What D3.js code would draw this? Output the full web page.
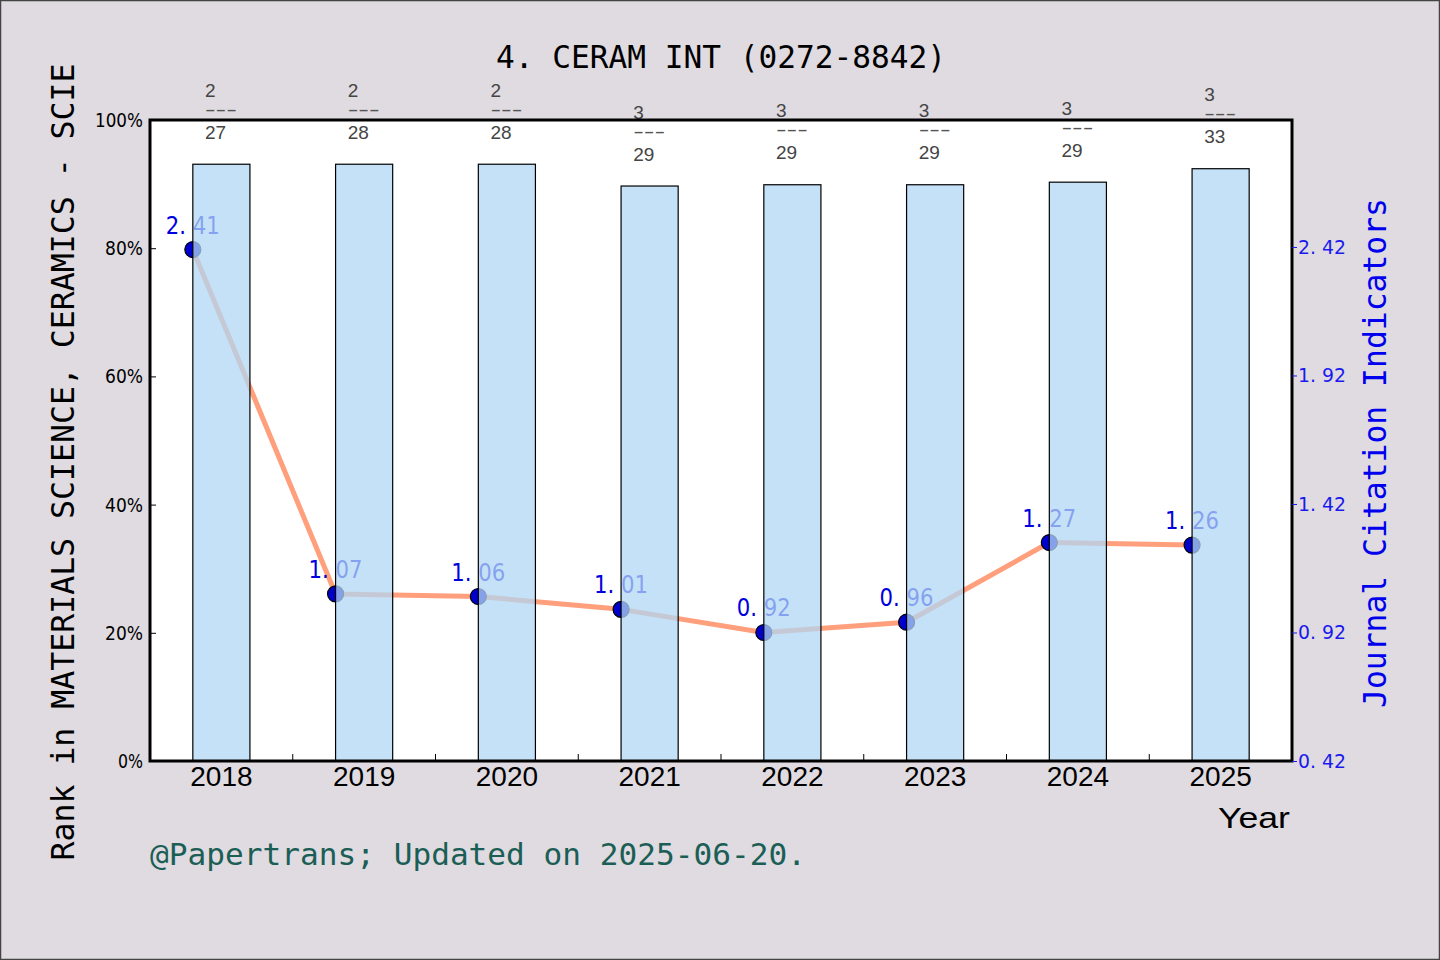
<!DOCTYPE html>
<html>
<head>
<meta charset="utf-8">
<script src="https://cdn.jsdelivr.net/npm/d3@7"></script>
<style>
html,body{margin:0;padding:0;background:#dfdbe0;}
svg{display:block;}
</style>
</head>
<body>
<svg id="chart" width="1440" height="960"></svg>
<script>
const years = ["2018","2019","2020","2021","2022","2023","2024","2025"];
const rankPct = [93.1, 93.1, 93.1, 89.7, 89.9, 89.9, 90.3, 92.4];
const rankNum = [2, 2, 2, 3, 3, 3, 3, 3];
const rankDen = [27, 28, 28, 29, 29, 29, 29, 33];
const jci = [2.41, 1.07, 1.06, 1.01, 0.92, 0.96, 1.27, 1.26];
const leftTicks = [0, 20, 40, 60, 80, 100];
const rightTicks = [0.42, 0.92, 1.42, 1.92, 2.42];
const rightDomain = [0.42, 2.914];

const titleText = "4. CERAM INT (0272-8842)";
const leftLabel = "Rank in MATERIALS SCIENCE, CERAMICS - SCIE";
const rightLabel = "Journal Citation Indicators";
const footText = "@Papertrans; Updated on 2025-06-20.";
const xLabel = "Year";

const mono = "'DejaVu Sans Mono','Liberation Mono',monospace";
const sans = "'Liberation Sans','DejaVu Sans',Arial,sans-serif";
const dsans = "'DejaVu Sans','Liberation Sans',sans-serif";

const L = 150, R = 1292, T = 120, B = 761;
const svg = d3.select("#chart");

// background + border
svg.append("rect").attr("x",0.5).attr("y",0.5).attr("width",1439).attr("height",959)
  .attr("fill","#dfdbe0").attr("stroke","#444").attr("stroke-width",1.5);
svg.append("rect").attr("x",L).attr("y",T).attr("width",R-L).attr("height",B-T).attr("fill","#ffffff");

const x = d3.scaleBand().domain(years).range([L,R]).padding(0);
const bw = x.bandwidth();
const barW = bw*0.4;
const yL = d3.scaleLinear().domain([0,100]).range([B,T]);
const yR = d3.scaleLinear().domain(rightDomain).range([B,T]);
const fmt = v => d3.format(".2f")(v).replace(".", ". ");

const data = years.map((y,i)=>({year:y, pct:rankPct[i], num:rankNum[i], den:rankDen[i], jci:jci[i]}));
const px = d => x(d.year) + (bw-barW)/2;

// line
svg.append("path").datum(data)
  .attr("d", d3.line().x(px).y(d=>yR(d.jci)))
  .attr("fill","none").attr("stroke","#ff9f7c").attr("stroke-width",5).attr("stroke-linejoin","round");

// dots
svg.selectAll("circle.pt").data(data).join("circle").attr("class","pt")
  .attr("cx",px).attr("cy",d=>yR(d.jci)).attr("r",8)
  .attr("fill","#0000cc").attr("stroke","#000").attr("stroke-width",1.2);

// point labels
svg.selectAll("text.pl").data(data).join("text").attr("class","pl")
  .attr("x",px).attr("y",d=>yR(d.jci)-16)
  .attr("text-anchor","middle").attr("font-family",dsans).attr("font-size",24)
  .attr("fill","#0000dd")
  .attr("textLength",54).attr("lengthAdjust","spacingAndGlyphs")
  .text(d=>fmt(d.jci));

// bars (semi-transparent, over line)
svg.selectAll("rect.bar").data(data).join("rect").attr("class","bar")
  .attr("x",px).attr("width",barW)
  .attr("y",d=>yL(d.pct)).attr("height",d=>B-yL(d.pct))
  .attr("fill","rgb(178,215,244)").attr("fill-opacity",0.75)
  .attr("stroke","#000").attr("stroke-width",1.2);

// fraction labels above bars
const fr = svg.selectAll("g.fr").data(data).join("g").attr("class","fr")
  .attr("transform",d=>`translate(${x(d.year)+bw/2-16.5},${yL(d.pct)})`);
fr.append("text").attr("x",0).attr("y",-74).attr("dy","0.35em")
  .attr("font-family",sans).attr("font-size",19).attr("fill","#444").text(d=>d.num);
fr.append("text").attr("x",0).attr("y",-55).attr("dy","0.35em")
  .attr("font-family",sans).attr("font-size",19).attr("fill","#555")
  .attr("textLength",32).attr("lengthAdjust","spacingAndGlyphs").text("---");
fr.append("text").attr("x",0).attr("y",-32).attr("dy","0.35em")
  .attr("font-family",sans).attr("font-size",19).attr("fill","#444").text(d=>d.den);

// frame
svg.append("rect").attr("x",L).attr("y",T).attr("width",R-L).attr("height",B-T)
  .attr("fill","none").attr("stroke","#000").attr("stroke-width",3);

// left axis
const gL = svg.append("g").attr("transform",`translate(${L},0)`)
  .call(d3.axisLeft(yL).tickValues(leftTicks).tickSize(-6).tickPadding(7).tickFormat(d=>d+"%"));
gL.select(".domain").remove();
gL.selectAll("line").attr("stroke","#000");
gL.selectAll("text").attr("font-family",dsans).attr("font-size",20).attr("fill","#000")
  .attr("textLength",d=>d===100?48:(d===0?25:38)).attr("lengthAdjust","spacingAndGlyphs");

// right axis
const gR = svg.append("g").attr("transform",`translate(${R},0)`)
  .call(d3.axisRight(yR).tickValues(rightTicks).tickSize(5).tickPadding(1).tickFormat(fmt));
gR.select(".domain").remove();
gR.selectAll("line").attr("stroke","#1a1aee");
gR.selectAll("text").attr("font-family",dsans).attr("font-size",19).attr("fill","#1a1aee")
  .attr("textLength",48).attr("lengthAdjust","spacingAndGlyphs");

// bottom axis labels
const gB = svg.append("g").attr("transform",`translate(0,${B})`)
  .call(d3.axisBottom(x).tickSize(0).tickPadding(5));
gB.select(".domain").remove();
gB.selectAll("text").attr("font-family",sans).attr("font-size",28).attr("fill","#000");
// boundary ticks
svg.selectAll("line.bt").data(years.slice(1)).join("line").attr("class","bt")
  .attr("x1",d=>x(d)).attr("x2",d=>x(d)).attr("y1",B).attr("y2",B-7)
  .attr("stroke","#000").attr("stroke-width",1);

// titles
svg.append("text").attr("x",721).attr("y",68).attr("text-anchor","middle")
  .attr("font-family",mono).attr("font-size",32).attr("fill","#000")
  .attr("textLength",450).attr("lengthAdjust","spacingAndGlyphs").text(titleText);

svg.append("text").attr("transform","translate(74,462) rotate(-90)").attr("text-anchor","middle")
  .attr("font-family",mono).attr("font-size",32).attr("fill","#000")
  .attr("textLength",797).attr("lengthAdjust","spacingAndGlyphs").text(leftLabel);

svg.append("text").attr("transform","translate(1386,453) rotate(-90)").attr("text-anchor","middle")
  .attr("font-family",mono).attr("font-size",32).attr("fill","#0000ee")
  .attr("textLength",510).attr("lengthAdjust","spacingAndGlyphs").text(rightLabel);

svg.append("text").attr("x",1290).attr("y",828).attr("text-anchor","end")
  .attr("font-family",sans).attr("font-size",30).attr("fill","#000")
  .attr("textLength",72).attr("lengthAdjust","spacingAndGlyphs").text(xLabel);

svg.append("text").attr("x",150).attr("y",865)
  .attr("font-family",mono).attr("font-size",31).attr("fill","#1b5e55")
  .attr("textLength",656).attr("lengthAdjust","spacingAndGlyphs").text(footText);
</script>
</body>
</html>
